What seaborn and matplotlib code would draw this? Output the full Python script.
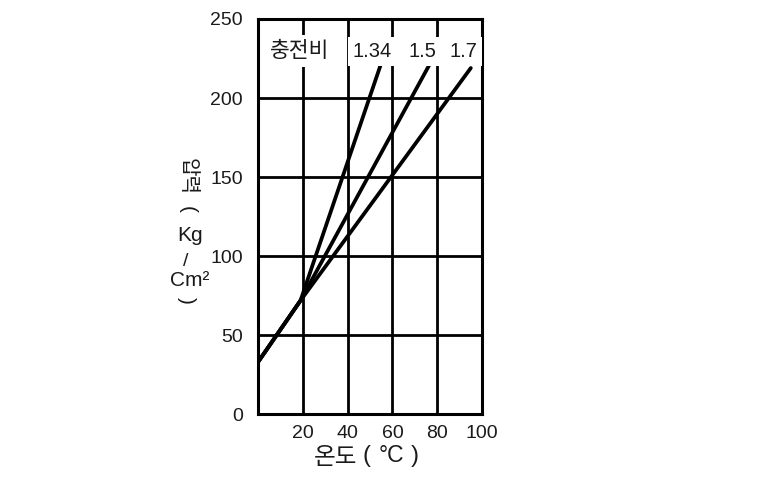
import matplotlib
matplotlib.use("Agg")
import matplotlib.pyplot as plt
import seaborn as sns
import pandas as pd

# ---- data ----
ratio_labels = ["1.34", "1.5", "1.7"]
common_temp = [0, 19]
common_pressure = [33, 72]
end_temp = [55, 76.5, 95]
end_pressure = [222, 221, 219]
x_ticks = [20, 40, 60, 80, 100]
y_ticks = [0, 50, 100, 150, 200, 250]

rows = []
for lab, et, ep in zip(ratio_labels, end_temp, end_pressure):
    for t, p in zip(common_temp + [et], common_pressure + [ep]):
        rows.append({"ratio": lab, "temp": t, "pressure": p})
df = pd.DataFrame(rows)

sns.set_style("white")
plt.rcParams['font.family'] = ['Liberation Sans', 'Noto Sans CJK KR', 'DejaVu Sans']

TXT = "#1a1a1a"
W, H = 760, 479
fig = plt.figure(figsize=(W / 100, H / 100), dpi=100)
ax = fig.add_axes([258 / W, 1 - 414.3 / H, (482 - 258) / W, (414.3 - 19) / H])

sns.lineplot(data=df, x="temp", y="pressure", hue="ratio", units="ratio",
             estimator=None, sort=False, palette=["black"] * 3,
             linewidth=2.7, legend=False, ax=ax, zorder=3)

ax.set_xlim(0, 100)
ax.set_ylim(0, 250)
ax.set_xticks(x_ticks)
ax.set_yticks(y_ticks)
ax.grid(True, color="black", linewidth=2.0)
ax.set_axisbelow(True)
for s in ax.spines.values():
    s.set_color("black")
    s.set_linewidth(2.2)
ax.tick_params(length=0, labelsize=14, labelcolor=TXT)
ax.tick_params(axis="y", pad=11)
ax.tick_params(axis="x", pad=8)
ax.set_xlabel("")
ax.set_ylabel("")

# in-plot labels
bb = dict(facecolor="white", edgecolor="none", pad=3.5)
ax.text(18.6, 229.5, "충전비", family=["Noto Sans CJK KR"], fontsize=15.5,
        fontweight="medium", color=TXT, ha="center", va="center", bbox=bb, zorder=4)
for lab, lx in zip(ratio_labels, [51.1, 73.2, 91.5]):
    ax.text(lx, 229.5, lab, fontsize=14.5, color=TXT, ha="center",
            va="center", bbox=bb, zorder=4)

# x axis label
fig.text(335.5 / W, 1 - 457 / H, "온도", family=["Noto Sans CJK KR"], fontsize=17,
         color=TXT, ha="center", va="center")
fig.text(367 / W, 1 - 456 / H, "(", fontsize=17, color=TXT, ha="center", va="center")
fig.text(391 / W, 1 - 456 / H, "°C", fontsize=16.5, color=TXT, ha="center", va="center")
fig.text(415 / W, 1 - 456 / H, ")", fontsize=17, color=TXT, ha="center", va="center")

# y axis label (mixed orientation)
fig.text(187 / W, 1 - 177 / H, "압력", family=["Noto Sans CJK KR"], fontsize=14.5,
         rotation=-90, color=TXT, ha="center", va="center")
fig.text(187 / W, 1 - 210 / H, "(", fontsize=15, rotation=-90, color=TXT,
         ha="center", va="center")
fig.text(190 / W, 1 - 235 / H, "Kg", fontsize=15, color=TXT, ha="center", va="center")
fig.text(186 / W, 1 - 262 / H, "/", fontsize=14, color=TXT, ha="center", va="center")
fig.text(190 / W, 1 - 281 / H, "Cm²", fontsize=15, color=TXT, ha="center", va="center")
fig.text(186 / W, 1 - 300 / H, ")", fontsize=15, rotation=-90, color=TXT,
         ha="center", va="center")

fig.savefig("out.png", dpi=100, facecolor="white")
